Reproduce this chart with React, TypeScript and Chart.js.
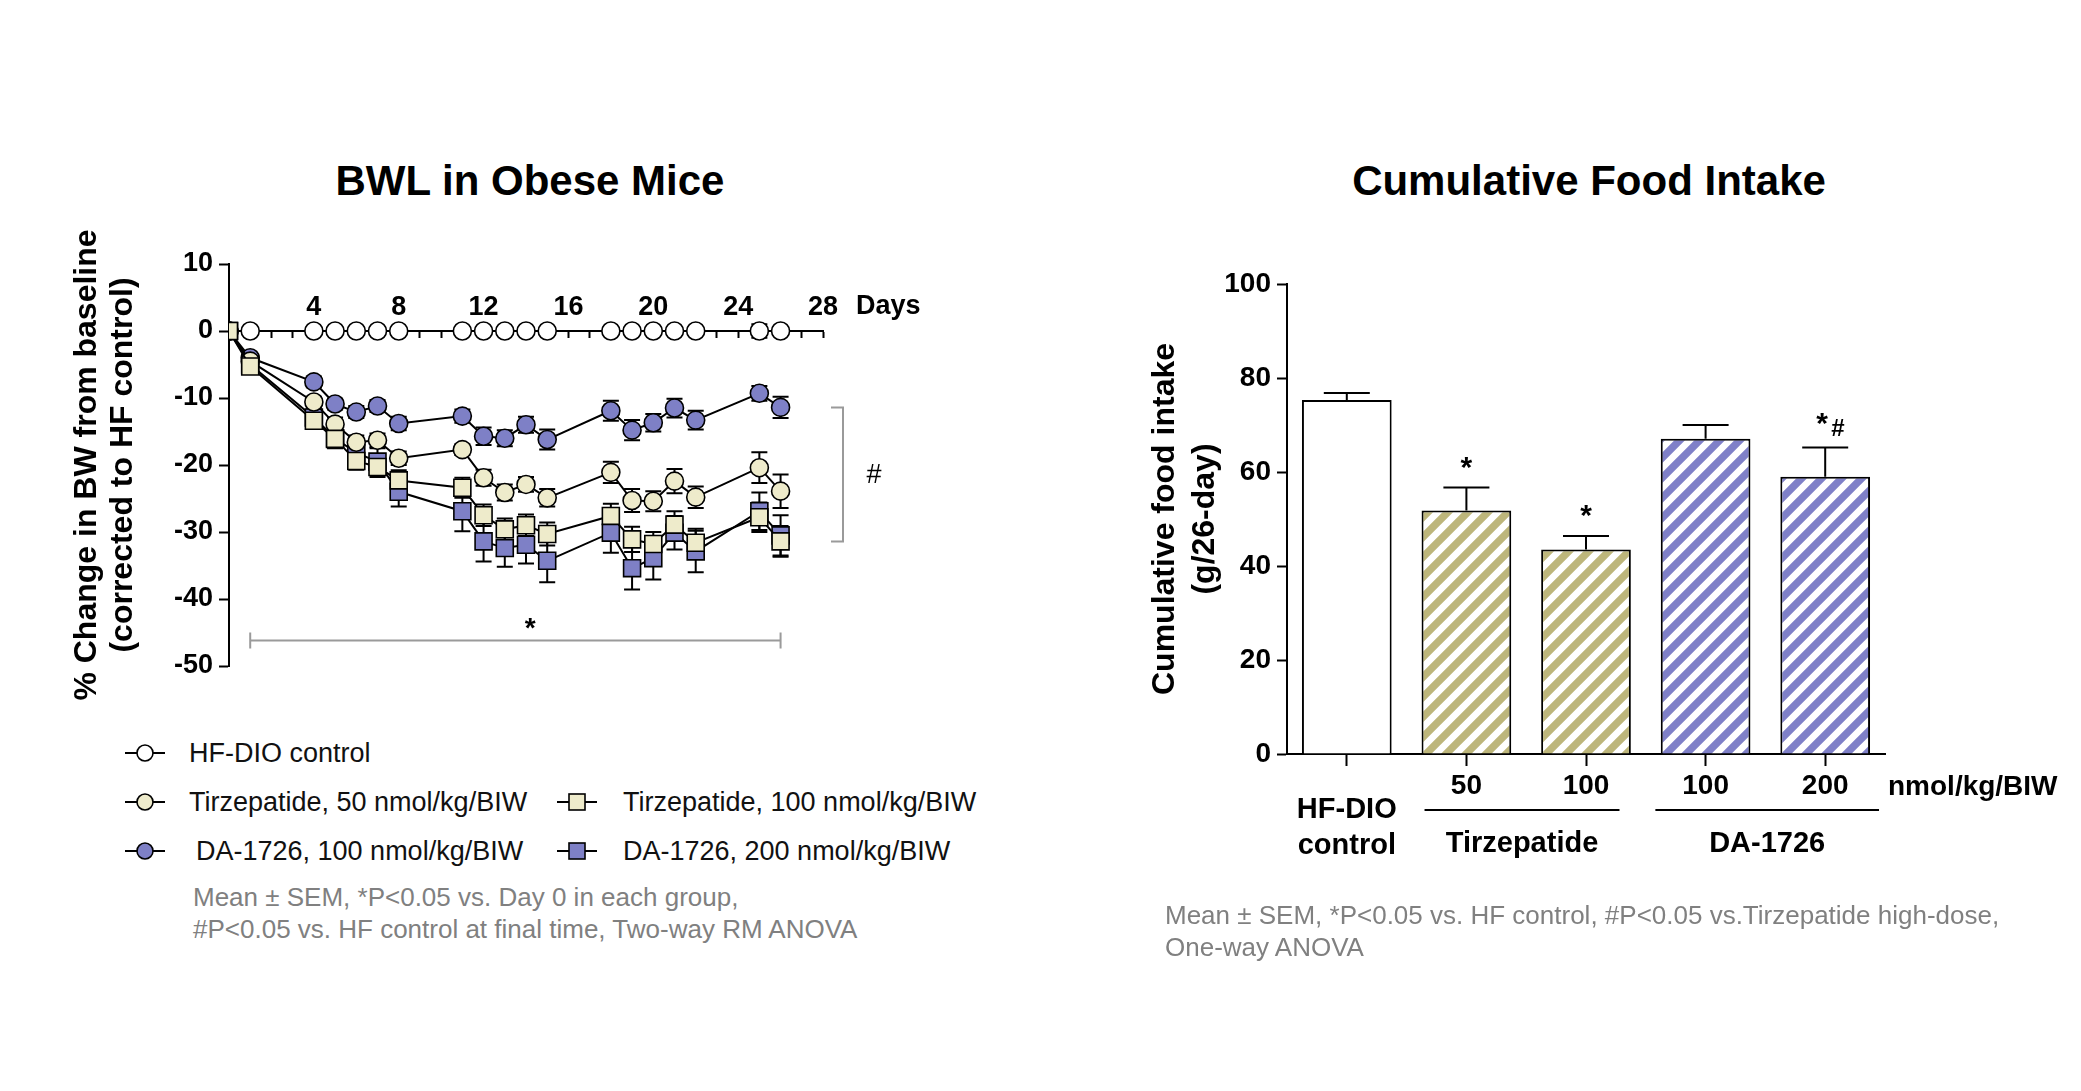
import { useEffect, useRef } from "react"
import { Chart, registerables } from "chart.js"

Chart.register(...registerables)

const FONT = "'Liberation Sans', Arial, Helvetica, sans-serif"

// ---- BWL in obese mice: % change in BW from baseline (corrected to HF control) ----
const days = [0, 1, 4, 5, 6, 7, 8, 11, 12, 13, 14, 15, 18, 19, 20, 21, 22, 25, 26]
const dayTicks = [4, 8, 12, 16, 20, 24, 28]

const controlBW = [0, 0, 0, 0, 0, 0, 0, 0, 0, 0, 0, 0, 0, 0, 0, 0, 0, 0, 0]
const controlSem = [0, 0, 0, 0, 0, 0, 0, 0, 0, 0, 0, 0, 0, 0, 0, 0, 0, 1.0, 0.4]

const tirz50BW = [0, -4.5, -10.6, -13.9, -16.6, -16.3, -19.0, -17.7, -21.9, -24.1, -22.9, -24.9, -21.1, -25.3, -25.4, -22.4, -24.8, -20.4, -23.9]
const tirz50Sem = [0, 0.5, 0.8, 1.0, 1.0, 1.0, 1.0, 0.8, 1.2, 1.2, 1.1, 1.3, 1.6, 1.7, 1.5, 1.8, 1.6, 2.3, 2.5]

const tirz100BW = [0, -5.3, -13.4, -16.1, -19.4, -20.3, -22.3, -23.4, -27.5, -29.6, -29.0, -30.3, -27.6, -31.1, -31.8, -28.9, -31.6, -27.8, -31.4]
const tirz100Sem = [0, 0.6, 1.0, 1.2, 1.3, 1.5, 1.5, 1.5, 1.6, 1.6, 1.6, 1.7, 1.8, 1.9, 1.8, 2.0, 2.1, 2.2, 2.3]

const da100BW = [0, -4.0, -7.6, -10.9, -12.1, -11.2, -13.8, -12.7, -15.7, -16.0, -14.0, -16.2, -11.9, -14.8, -13.7, -11.5, -13.3, -9.3, -11.4]
const da100Sem = [0, 0.5, 0.8, 0.8, 0.9, 0.9, 1.0, 1.0, 1.3, 1.2, 1.2, 1.5, 1.5, 1.5, 1.3, 1.4, 1.4, 1.1, 1.6]

const da200BW = [0, -5.0, -12.9, -16.0, -18.2, -19.5, -24.0, -26.9, -31.4, -32.4, -31.9, -34.3, -30.1, -35.4, -33.9, -30.1, -32.9, -26.9, -30.5]
const da200Sem = [0, 0.6, 1.2, 1.5, 1.8, 2.0, 2.2, 3.0, 3.0, 2.8, 2.8, 3.2, 3.0, 3.2, 3.2, 2.5, 3.1, 2.8, 3.0]

const bwlTicks = [10, 0, -10, -20, -30, -40, -50]

// ---- Cumulative food intake (g/26-day) ----
const intakeGroups = ["HF-DIO control", "Tirzepatide 50", "Tirzepatide 100", "DA-1726 100", "DA-1726 200"]
const doseLabels = ["", "50", "100", "100", "200"]
const intakeMean = [75.3, 51.8, 43.5, 67.1, 59.0]
const intakeSem = [1.5, 4.9, 2.9, 2.9, 6.2]
const intakeSig = ["", "*", "*", "", "*#"]

const BLUE = "#7E80C6"
const BEIGE = "#EEEBCB"
const OLIVE = "#BDB67B"
const STRIPE_BLUE = "#7F80C8"

function stripes(color: string) {
  const s = 20
  const tile = document.createElement("canvas")
  tile.width = s
  tile.height = s
  const g = tile.getContext("2d")!
  g.fillStyle = "#fff"
  g.fillRect(0, 0, s, s)
  g.strokeStyle = color
  g.lineWidth = 7.5
  g.beginPath()
  g.moveTo(-s / 2, s / 2)
  g.lineTo(s / 2, -s / 2)
  g.moveTo(0, s)
  g.lineTo(s, 0)
  g.moveTo(s / 2, (3 * s) / 2)
  g.lineTo((3 * s) / 2, s / 2)
  g.stroke()
  return g.createPattern(tile, "repeat")!
}

function BwlChart() {
  const chartRef = useRef<HTMLCanvasElement>(null)
  const chartInstance = useRef<Chart | null>(null)

  useEffect(() => {
    if (!chartRef.current) return
    const ctx = chartRef.current.getContext("2d")
    if (!ctx) return
    if (chartInstance.current) chartInstance.current.destroy()

    // first entry is drawn on top
    const groups = [
      { data: tirz100BW, sem: tirz100Sem, fill: BEIGE, style: "rect", r: 12 },
      { data: tirz50BW, sem: tirz50Sem, fill: BEIGE, style: "circle", r: 9 },
      { data: da200BW, sem: da200Sem, fill: BLUE, style: "rect", r: 12 },
      { data: da100BW, sem: da100Sem, fill: BLUE, style: "circle", r: 9 },
      { data: controlBW, sem: controlSem, fill: "#FFFFFF", style: "circle", r: 9 },
    ]

    const extras = {
      id: "bwlExtras",
      beforeDatasetsDraw(chart: any) {
        const { ctx, scales } = chart
        const { x, y } = scales
        ctx.save()
        ctx.strokeStyle = "#000"
        ctx.lineWidth = 2
        groups.forEach((g) => {
          g.data.forEach((v, i) => {
            const e = g.sem[i]
            if (!e) return
            const px = x.getPixelForValue(days[i])
            const top = y.getPixelForValue(v + e)
            const bot = y.getPixelForValue(v - e)
            ctx.beginPath()
            ctx.moveTo(px, top)
            ctx.lineTo(px, bot)
            ctx.moveTo(px - 8, top)
            ctx.lineTo(px + 8, top)
            ctx.moveTo(px - 8, bot)
            ctx.lineTo(px + 8, bot)
            ctx.stroke()
          })
        })
        ctx.restore()
      },
      afterDraw(chart: any) {
        const { ctx, scales } = chart
        const { x, y } = scales
        const y0 = y.getPixelForValue(0)
        ctx.save()
        ctx.fillStyle = "#000"
        ctx.font = `bold 27px ${FONT}`
        ctx.textAlign = "left"
        ctx.textBaseline = "middle"
        ctx.fillText("Days", x.right + 33, y0 - 24)

        // * bracket (vs. day 0)
        ctx.strokeStyle = "#9A9A9A"
        ctx.lineWidth = 2
        const by = y.getPixelForValue(-46.2)
        const bx1 = x.getPixelForValue(1)
        const bx2 = x.getPixelForValue(26)
        ctx.beginPath()
        ctx.moveTo(bx1, by)
        ctx.lineTo(bx2, by)
        ctx.moveTo(bx1, by - 8)
        ctx.lineTo(bx1, by + 8)
        ctx.moveTo(bx2, by - 8)
        ctx.lineTo(bx2, by + 8)
        ctx.stroke()
        ctx.font = `bold 28px ${FONT}`
        ctx.textAlign = "center"
        ctx.textBaseline = "alphabetic"
        ctx.fillText("*", x.getPixelForValue(14.2), y.getPixelForValue(-43.2) + 17)

        // # bracket (vs. HF control at final time)
        const hx = x.right + 20
        const hy1 = y.getPixelForValue(-11.4)
        const hy2 = y.getPixelForValue(-31.4)
        ctx.beginPath()
        ctx.moveTo(hx - 12, hy1)
        ctx.lineTo(hx, hy1)
        ctx.lineTo(hx, hy2)
        ctx.lineTo(hx - 12, hy2)
        ctx.stroke()
        ctx.font = `27px ${FONT}`
        ctx.textBaseline = "middle"
        ctx.fillText("#", hx + 31, y.getPixelForValue(-21.6))
        ctx.restore()
      },
    }

    chartInstance.current = new Chart(ctx, {
      type: "line",
      data: {
        datasets: groups.map((g) => ({
          data: g.data.map((v, i) => ({ x: days[i], y: v })),
          borderColor: "#000",
          borderWidth: 2,
          pointStyle: g.style as any,
          pointRadius: g.r,
          pointBackgroundColor: g.fill,
          pointBorderColor: "#000",
          pointBorderWidth: 1.6,
          tension: 0,
        })),
      },
      options: {
        responsive: false,
        animation: false,
        events: [],
        layout: { padding: { top: 264, bottom: 54, right: 177, left: 0 } },
        plugins: { legend: { display: false }, tooltip: { enabled: false } },
        scales: {
          x: {
            type: "linear",
            position: { y: 0 } as any,
            min: 0,
            max: 28,
            ticks: {
              stepSize: 1,
              autoSkip: false,
              maxRotation: 0,
              padding: -46,
              color: "#000",
              font: { family: FONT, size: 27, weight: "bold", lineHeight: 1.2 },
              callback: (v: any) => (dayTicks.includes(Number(v)) ? String(v) : ""),
            },
            grid: { drawOnChartArea: false, tickLength: 6, tickWidth: 2, tickColor: "#000" },
            border: { display: true, color: "#000", width: 2 },
          },
          y: {
            min: -50,
            max: 10,
            afterBuildTicks: (s: any) => {
              s.ticks = bwlTicks.map((v) => ({ value: v }))
            },
            afterFit: (s: any) => {
              s.width = 229
            },
            ticks: {
              color: "#000",
              padding: 6,
              font: { family: FONT, size: 27, weight: "bold" },
            },
            grid: { drawOnChartArea: false, tickLength: 10, tickWidth: 2, tickColor: "#000" },
            border: { display: true, color: "#000", width: 2 },
            title: {
              display: true,
              text: ["% Change in BW from baseline", "(corrected to HF control)"],
              color: "#000",
              font: { family: FONT, size: 32, weight: "bold", lineHeight: 1.1 },
              padding: { top: 70, bottom: 0 },
            },
          },
        },
      },
      plugins: [extras],
    })

    return () => {
      if (chartInstance.current) {
        chartInstance.current.destroy()
        chartInstance.current = null
      }
    }
  }, [])

  return (
    <canvas
      ref={chartRef}
      width={1000}
      height={720}
      style={{ position: "absolute", left: 0, top: 0, width: 1000, height: 720 }}
    />
  )
}

function IntakeChart() {
  const chartRef = useRef<HTMLCanvasElement>(null)
  const chartInstance = useRef<Chart | null>(null)

  useEffect(() => {
    if (!chartRef.current) return
    const ctx = chartRef.current.getContext("2d")
    if (!ctx) return
    if (chartInstance.current) chartInstance.current.destroy()

    const olive = stripes(OLIVE)
    const blue = stripes(STRIPE_BLUE)

    const extras = {
      id: "intakeExtras",
      afterDatasetsDraw(chart: any) {
        const { ctx, scales } = chart
        const { x, y } = scales
        ctx.save()
        ctx.strokeStyle = "#000"
        ctx.fillStyle = "#000"
        ctx.lineWidth = 2
        intakeMean.forEach((m, i) => {
          const px = x.getPixelForValue(i)
          const top = y.getPixelForValue(m)
          const cap = y.getPixelForValue(m + intakeSem[i])
          ctx.beginPath()
          ctx.moveTo(px, top)
          ctx.lineTo(px, cap)
          ctx.moveTo(px - 23, cap)
          ctx.lineTo(px + 23, cap)
          ctx.stroke()
          const sig = intakeSig[i]
          ctx.textBaseline = "alphabetic"
          if (sig === "*") {
            ctx.font = `bold 30px ${FONT}`
            ctx.textAlign = "center"
            ctx.fillText("*", px, cap - 11)
          } else if (sig === "*#") {
            ctx.font = `bold 30px ${FONT}`
            ctx.textAlign = "center"
            ctx.fillText("*", px - 3, cap - 15)
            ctx.font = `bold 24px ${FONT}`
            ctx.textAlign = "left"
            ctx.fillText("#", px + 6, cap - 12)
          }
        })
        ctx.restore()
      },
      afterDraw(chart: any) {
        const { ctx, scales, chartArea } = chart
        const { x } = scales
        const b = chartArea.bottom
        const w = x.getPixelForValue(1) - x.getPixelForValue(0)
        ctx.save()
        ctx.fillStyle = "#000"
        ctx.strokeStyle = "#000"
        ctx.lineWidth = 2
        ctx.textBaseline = "middle"
        ctx.font = `bold 28px ${FONT}`
        ctx.textAlign = "left"
        ctx.fillText("nmol/kg/BIW", chartArea.right + 3, b + 33)

        ctx.font = `bold 29px ${FONT}`
        ctx.textAlign = "center"
        const c0 = x.getPixelForValue(0)
        ctx.fillText("HF-DIO", c0, b + 56)
        ctx.fillText("control", c0, b + 92)

        const brackets = [
          { name: "Tirzepatide", from: 1, to: 2, l: 0.35, r: 0.28 },
          { name: "DA-1726", from: 3, to: 4, l: 0.42, r: 0.45 },
        ]
        brackets.forEach((g) => {
          const x1 = x.getPixelForValue(g.from) - g.l * w
          const x2 = x.getPixelForValue(g.to) + g.r * w
          ctx.beginPath()
          ctx.moveTo(x1, b + 56)
          ctx.lineTo(x2, b + 56)
          ctx.stroke()
          ctx.fillText(g.name, (x1 + x2) / 2, b + 90)
        })
        ctx.restore()
      },
    }

    chartInstance.current = new Chart(ctx, {
      type: "bar",
      data: {
        labels: doseLabels,
        datasets: [
          {
            label: "Cumulative food intake",
            data: intakeMean,
            backgroundColor: ["#FFFFFF", olive, olive, blue, blue],
            borderColor: "#000",
            borderWidth: 2,
            barPercentage: 0.75,
            categoryPercentage: 1,
          },
        ],
      },
      options: {
        responsive: false,
        animation: false,
        events: [],
        layout: { padding: { top: 284, right: 196, left: 0, bottom: 0 } },
        plugins: { legend: { display: false }, tooltip: { enabled: false } },
        scales: {
          x: {
            afterFit: (s: any) => {
              s.height = 146
            },
            ticks: {
              color: "#000",
              padding: 3,
              font: { family: FONT, size: 28, weight: "bold", lineHeight: 1.2 },
            },
            grid: { offset: false, drawOnChartArea: false, tickLength: 12, tickWidth: 2, tickColor: "#000" },
            border: { display: true, color: "#000", width: 2 },
          },
          y: {
            min: 0,
            max: 100,
            afterFit: (s: any) => {
              s.width = 187
            },
            ticks: {
              stepSize: 20,
              color: "#000",
              padding: 6,
              font: { family: FONT, size: 28, weight: "bold" },
            },
            grid: { drawOnChartArea: false, tickLength: 10, tickWidth: 2, tickColor: "#000" },
            border: { display: true, color: "#000", width: 2 },
            title: {
              display: true,
              text: ["Cumulative food intake", "(g/26-day)"],
              color: "#000",
              font: { family: FONT, size: 32, weight: "bold", lineHeight: 1.25 },
              padding: { top: 45, bottom: 0 },
            },
          },
        },
      },
      plugins: [extras],
    })

    return () => {
      if (chartInstance.current) {
        chartInstance.current.destroy()
        chartInstance.current = null
      }
    }
  }, [])

  return (
    <canvas
      ref={chartRef}
      width={981}
      height={900}
      style={{ position: "absolute", left: 1100, top: 0, width: 981, height: 900 }}
      aria-label={intakeGroups.join(", ")}
    />
  )
}

const legendItems = [
  { label: "HF-DIO control", shape: "circle", fill: "#FFFFFF", sx: 145, tx: 189, cy: 753 },
  { label: "Tirzepatide, 50 nmol/kg/BIW", shape: "circle", fill: BEIGE, sx: 145, tx: 189, cy: 802 },
  { label: "Tirzepatide, 100 nmol/kg/BIW", shape: "rect", fill: BEIGE, sx: 577, tx: 623, cy: 802 },
  { label: "DA-1726, 100 nmol/kg/BIW", shape: "circle", fill: BLUE, sx: 145, tx: 196, cy: 851 },
  { label: "DA-1726, 200 nmol/kg/BIW", shape: "rect", fill: BLUE, sx: 577, tx: 623, cy: 851 },
]

function Marker({ shape, fill }: { shape: string; fill: string }) {
  return (
    <svg width="42" height="24" viewBox="0 0 42 24" style={{ display: "block" }}>
      <line x1="1" y1="12" x2="41" y2="12" stroke="#000" strokeWidth="2" />
      {shape === "circle" ? (
        <circle cx="21" cy="12" r="8" fill={fill} stroke="#000" strokeWidth="1.6" />
      ) : (
        <rect x="13" y="4" width="16" height="16" fill={fill} stroke="#000" strokeWidth="1.6" />
      )}
    </svg>
  )
}

const textStyle = { position: "absolute" as const, fontFamily: FONT, whiteSpace: "nowrap" as const }

export default function App() {
  return (
    <div style={{ position: "absolute", left: 0, top: 0, width: 2081, height: 1091, background: "#fff", overflow: "hidden" }}>
      <div style={{ ...textStyle, left: 130, width: 800, top: 156, lineHeight: "50px", fontSize: 42, fontWeight: "bold", textAlign: "center" }}>
        BWL in Obese Mice
      </div>
      <div style={{ ...textStyle, left: 1189, width: 800, top: 156, lineHeight: "50px", fontSize: 42, fontWeight: "bold", textAlign: "center" }}>
        Cumulative Food Intake
      </div>

      <BwlChart />
      <IntakeChart />

      {legendItems.map((it) => (
        <div key={it.label}>
          <div style={{ position: "absolute", left: it.sx - 21, top: it.cy - 12 }}>
            <Marker shape={it.shape} fill={it.fill} />
          </div>
          <div style={{ ...textStyle, left: it.tx, top: it.cy - 17, lineHeight: "34px", fontSize: 27, color: "#111" }}>
            {it.label}
          </div>
        </div>
      ))}

      <div style={{ ...textStyle, left: 193, top: 881, lineHeight: "32px", fontSize: 26, color: "#808080" }}>
        Mean ± SEM, *P&lt;0.05 vs. Day 0 in each group,
        <br />
        #P&lt;0.05 vs. HF control at final time, Two-way RM ANOVA
      </div>
      <div style={{ ...textStyle, left: 1165, top: 899, lineHeight: "32px", fontSize: 26, color: "#808080" }}>
        Mean ± SEM, *P&lt;0.05 vs. HF control, #P&lt;0.05 vs.Tirzepatide high-dose,
        <br />
        One-way ANOVA
      </div>
    </div>
  )
}
